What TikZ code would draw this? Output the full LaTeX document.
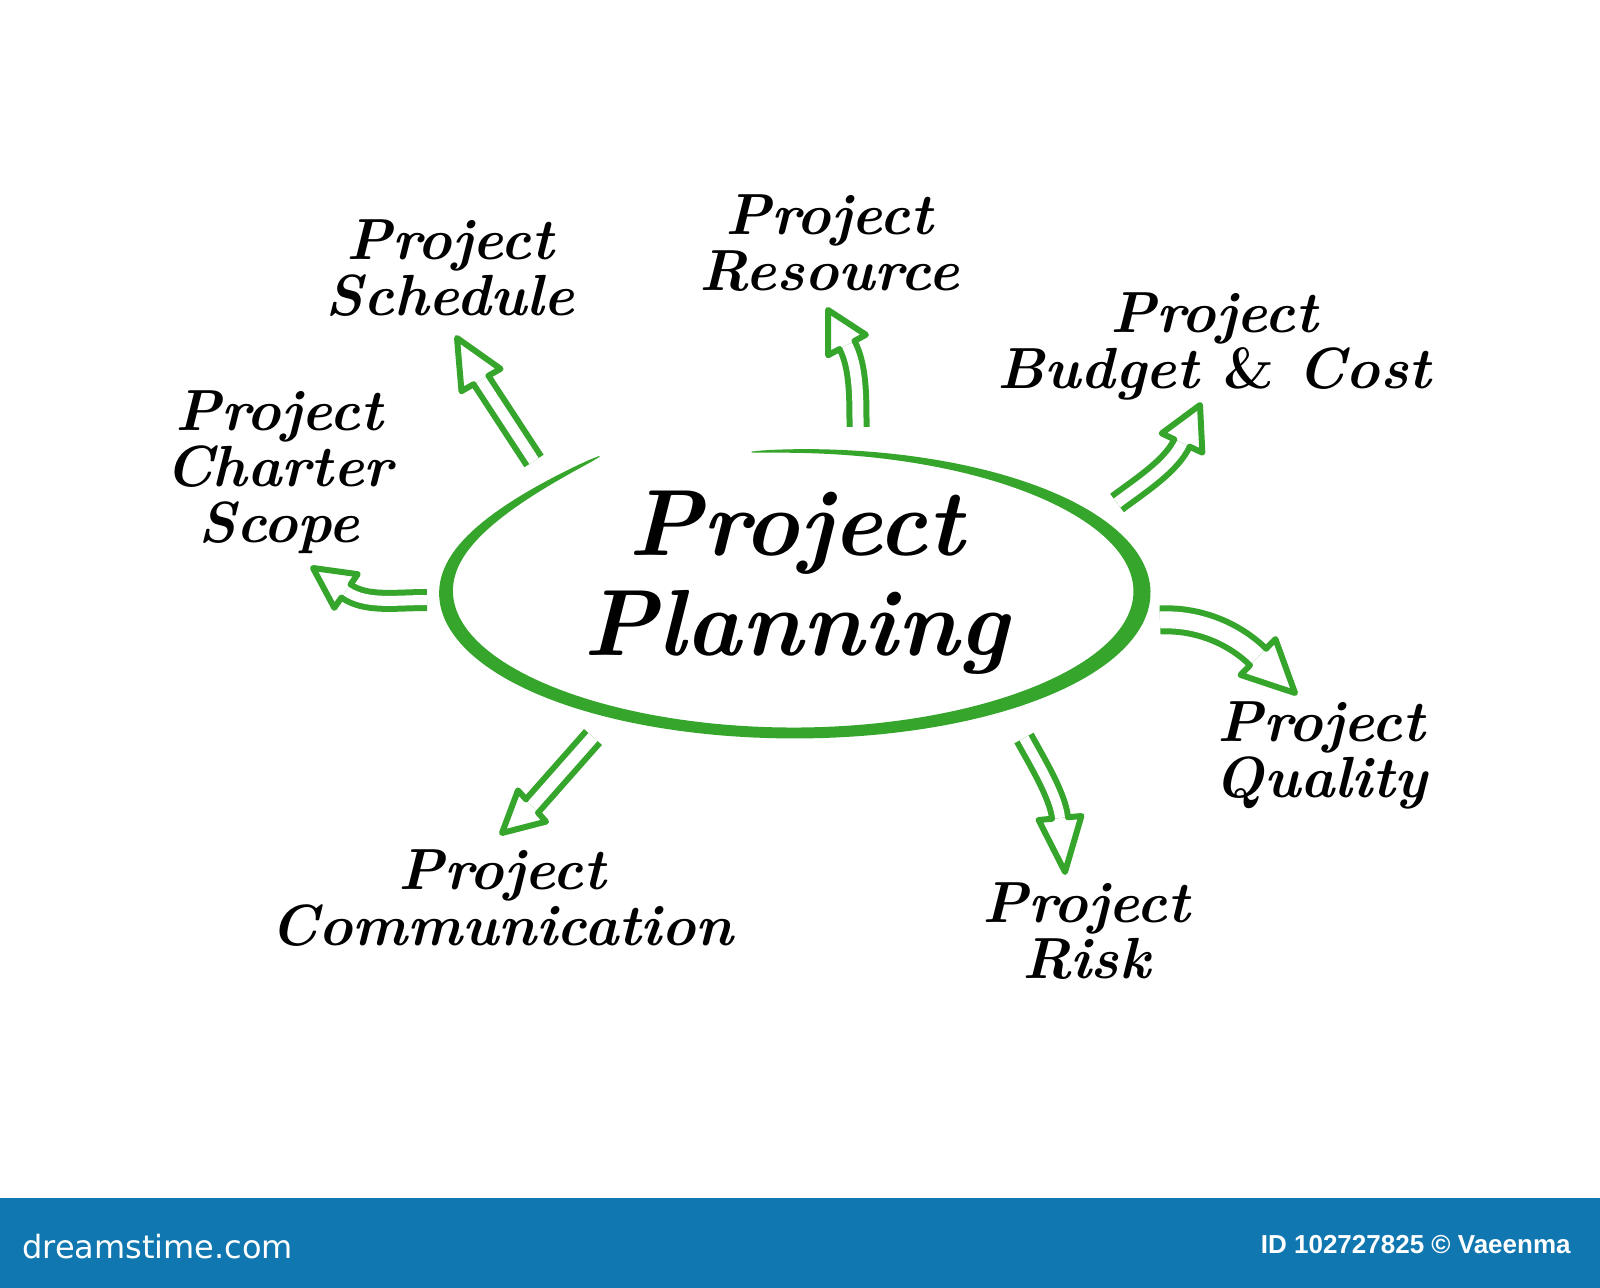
\documentclass[tikz,border=0pt]{standalone}
\usepackage{fontspec}
\newfontfamily\bannerfont{Liberation Sans}
\newfontfamily\dreamfont{DejaVu Sans}
\usetikzlibrary{calc}
\definecolor{pgreen}{HTML}{35A52B}
\definecolor{bannerblue}{HTML}{1177B0}
% #1 shaft path, #2 back point E, #3 tip T, #4 half spacing, #5 head half width, #6 double distance
\newcommand\hollowarrow[6]{%
  \draw[pgreen, line width=3pt, double=white, double distance=#6] #1;
  \draw[pgreen, line width=3pt, line join=round, line cap=round]
    ($(#2)!#4!90:(#3)$) -- ($(#2)!#5!90:(#3)$) -- (#3) --
    ($(#2)!#5!-90:(#3)$) -- ($(#2)!#4!-90:(#3)$);
}
\begin{document}
\begin{tikzpicture}[x=0.5pt,y=-0.5pt,
  lbl/.style={font=\fontsize{29}{28}\selectfont\bfseries\itshape, align=center, inner sep=0pt},
  declare function={ee(\a)=sqrt(max(0,sin(0.54054*(\a-124))));
                    ew(\a)=0.5+(7+2*cos(2*\a))*ee(\a);
                    efm(\a)=max(0,1-(\a-124)/45);
                    ef(\a)=1+0.16*efm(\a)*efm(\a);}]
\useasboundingbox (0,0) rectangle (1600,1288);
\fill[white] (0,0) rectangle (1600,1288);

% central ellipse (hand-drawn, tapered)
\fill[pgreen] plot[domain=124:457, samples=180, variable=\t]
   ({794+(348+ew(\t))*cos(\t)}, {592-(141*ef(\t)+ew(\t))*sin(\t)})
   -- plot[domain=457:124, samples=180, variable=\t]
   ({794+(348-ew(\t))*cos(\t)}, {592-(141*ef(\t)-ew(\t))*sin(\t)}) -- cycle;

\node[font=\fontsize{47}{50}\selectfont\bfseries\itshape, align=center, inner sep=0pt] (plan) at (796,583) {Project\\Planning};

% labels
\node[lbl] (sched) at (450,268) {Project\\Schedule};
\node[lbl] (res)   at (829,243) {Project\\Resource};
\node[lbl] (bud)   at (1214,346) {Project\\Budget {\upshape\&} Cost};
\node[lbl] (chart) at (279,472) {Project\\Charter\\Scope};
\node[lbl] (qual)  at (1321,755) {Project\\Quality};
\node[lbl] (comm)  at (502,898) {Project\\Communication};
\node[lbl] (risk)  at (1086,931) {Project\\Risk};

% arrow coordinates
\coordinate (s1) at (534,461); \coordinate (e1) at (481,380); \coordinate (t1) at (457,338);
\coordinate (s2) at (858,427); \coordinate (e2) at (847,345); \coordinate (t2) at (828,310);
\coordinate (s3) at (1117,503); \coordinate (e3) at (1182,443); \coordinate (t3) at (1200,405);
\coordinate (s4) at (427,600); \coordinate (e4) at (346,591); \coordinate (t4) at (313,568);
\coordinate (s5) at (593,737); \coordinate (e5) at (532,806); \coordinate (t5) at (502,833);
\coordinate (s6) at (1024,738); \coordinate (e6) at (1060,818); \coordinate (t6) at (1065,872);
\coordinate (s7) at (1160,620); \coordinate (e7) at (1258,657); \coordinate (t7) at (1295,693);

\hollowarrow{(s1) -- (e1)}{e1}{t1}{4.25pt}{11.25pt}{5.5pt}
\hollowarrow{(s2) .. controls (858,395) and (858,366) .. (e2)}{e2}{t2}{4.25pt}{10.75pt}{5.5pt}
\hollowarrow{(s3) .. controls (1141,485) and (1171,466) .. (e3)}{e3}{t3}{4.25pt}{11.25pt}{5.5pt}
\hollowarrow{(s4) .. controls (395,600) and (366,605) .. (e4)}{e4}{t4}{4pt}{10.25pt}{5pt}
\hollowarrow{(s5) -- (e5)}{e5}{t5}{4.5pt}{10.5pt}{6pt}
\hollowarrow{(s6) .. controls (1036,760) and (1058,796) .. (e6)}{e6}{t6}{4pt}{10.75pt}{5pt}
\hollowarrow{(s7) .. controls (1200,618) and (1236,635) .. (e7)}{e7}{t7}{5.75pt}{12.5pt}{8.5pt}

% banner
\fill[bannerblue] (0,1198) rectangle (1600,1288);
\node[anchor=west, text=white, inner sep=0pt, font=\dreamfont\fontsize{16}{16}\selectfont] (ds) at (22,1247) {dreamstime.com};
\node[anchor=east, text=white, inner sep=0pt, font=\bannerfont\bfseries\fontsize{13}{13}\selectfont] (id) at (1571,1245) {ID 102727825 © Vaeenma};
\end{tikzpicture}
\end{document}
